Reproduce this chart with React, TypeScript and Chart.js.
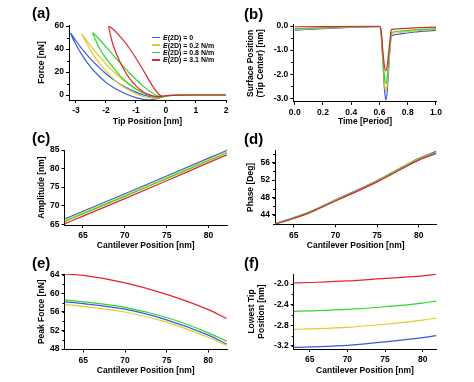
import React, { useEffect, useRef } from 'react';
import { Chart, registerables } from 'chart.js';

Chart.register(...registerables);

const FONT = "'Liberation Sans', Arial, Helvetica, sans-serif";
const SERIES_LABELS = ['0', '0.2 N/m', '0.8 N/m', '3.1 N/m'];
const COLORS = ['rgb(55,90,225)', 'rgb(230,200,45)', 'rgb(45,215,45)', 'rgb(228,35,45)'];

// (a) Force vs tip position loops
const aBlueX = [2, 1, 0.5, 0.2, 0, -0.15, -0.35, -0.55, -0.75, -1.0, -1.25, -1.5, -1.75, -2.0, -2.25, -2.5, -2.75, -3.0, -3.17, -3.05, -2.75, -2.5, -2.25, -2.0, -1.75, -1.5, -1.25, -1.0, -0.75, -0.5, -0.3, -0.1, 0];
const aBlueY = [0, 0, -0.1, -0.4, -1, -2, -3.5, -4.2, -3.8, -2.3, 0, 3, 6.5, 11, 17, 24, 33, 44, 53.5, 49, 38.5, 31, 24.5, 18.5, 13.5, 9, 5.5, 2.5, 0, -1.7, -2.3, -1.5, -1];
const aYellowX = [2, 1, 0.5, 0.1, -0.1, -0.3, -0.5, -0.75, -1.0, -1.25, -1.5, -1.75, -2.0, -2.2, -2.4, -2.6, -2.8, -2.7, -2.5, -2.2, -2.0, -1.75, -1.5, -1.25, -1.0, -0.75, -0.5, -0.3, -0.1];
const aYellowY = [0, 0, -0.1, -0.6, -1.5, -2.6, -2.5, -1.3, 1, 4.5, 8.5, 14, 21, 27, 34, 43, 53, 49.5, 42.5, 33, 27, 20.5, 14.5, 9.5, 5.3, 2, -0.5, -1.7, -1.6];
const aGreenX = [2, 1, 0.5, 0.1, -0.1, -0.3, -0.5, -0.75, -1.0, -1.25, -1.5, -1.75, -2.0, -2.2, -2.35, -2.43, -2.35, -2.1, -1.9, -1.7, -1.5, -1.25, -1.0, -0.75, -0.5, -0.3, -0.15, 0];
const aGreenY = [0, 0, -0.1, -0.6, -1.6, -2, -1, 1.5, 5.2, 10, 16, 23.5, 32, 40, 48, 54, 52, 45, 39, 33, 27, 20, 13.5, 7.5, 2.5, -0.5, -1.4, -1.0];
const aRedX = [2, 1, 0.5, 0.1, -0.1, -0.25, -0.4, -0.6, -0.8, -1.0, -1.2, -1.4, -1.55, -1.7, -1.8, -1.87, -1.9, -1.8, -1.6, -1.4, -1.2, -1.0, -0.8, -0.6, -0.45, -0.3, -0.2, -0.1];
const aRedY = [0, 0, -0.1, -0.4, -1, -1.5, -1, 0.5, 3.5, 8, 14, 22, 30, 39, 47, 55, 59.5, 58, 53, 47, 40, 32, 23.5, 14.5, 8, 2.5, -0.3, -1];

// (b) Surface position vs time
const bTime = [0, 0.6, 0.607, 0.615, 0.625, 0.635, 0.645, 0.655, 0.665, 0.675, 0.683, 0.69, 0.75, 0.85, 1.0];
const bBlue = [-0.17, -0.03, -0.1, -0.6, -1.6, -2.6, -3.08, -2.7, -1.8, -0.9, -0.45, -0.4, -0.33, -0.25, -0.18];
const bYellow = [-0.13, -0.02, -0.09, -0.55, -1.5, -2.35, -2.74, -2.4, -1.6, -0.8, -0.38, -0.33, -0.27, -0.2, -0.14];
const bGreen = [-0.11, -0.02, -0.08, -0.5, -1.35, -2.1, -2.39, -2.1, -1.4, -0.7, -0.3, -0.26, -0.21, -0.16, -0.11];
const bRed = [-0.03, -0.01, -0.06, -0.4, -1.1, -1.65, -1.86, -1.65, -1.1, -0.55, -0.17, -0.14, -0.11, -0.08, -0.05];

// (c) Amplitude
const cPos = [62.8, 65, 70, 75, 80, 82.2];
const cBlue = [66.4, 68.5, 73.2, 78.0, 82.8, 84.9];
const cYellow = [66.0, 68.1, 72.8, 77.6, 82.4, 84.5];
const cGreen = [65.7, 67.8, 72.5, 77.3, 82.1, 84.2];
const cRed = [65.1, 67.2, 71.9, 76.7, 81.6, 83.7];

// (d) Phase
const dPos = [62.8, 65, 67, 70, 72, 75, 78, 80, 82.1];
const dBlue = [42.0, 43.4, 44.8, 47.5, 49.2, 51.9, 55.0, 57.0, 58.6];
const dYellow = [42.0, 43.3, 44.7, 47.4, 49.1, 51.8, 54.9, 56.9, 58.4];
const dGreen = [41.95, 43.3, 44.7, 47.3, 49.0, 51.7, 54.8, 56.8, 58.3];
const dRed = [41.9, 43.2, 44.6, 47.2, 48.9, 51.6, 54.6, 56.6, 58.1];

// (e) Peak force
const ePos = [62.75, 65, 70, 75, 80, 82.2];
const eBlue = [58.2, 57.8, 56.6, 54.3, 51.0, 49.1];
const eYellow = [57.6, 57.2, 56.0, 53.8, 50.5, 48.8];
const eGreen = [58.6, 58.2, 57.0, 54.8, 51.5, 49.7];
const eRed = [64.2, 63.9, 62.3, 59.8, 56.5, 54.6];

// (f) Lowest tip position
const fPos = [62.9, 65, 70, 75, 80, 81.8];
const fBlue = [-3.23, -3.22, -3.19, -3.12, -3.04, -3.0];
const fYellow = [-2.88, -2.87, -2.84, -2.78, -2.7, -2.66];
const fGreen = [-2.53, -2.52, -2.49, -2.44, -2.37, -2.33];
const fRed = [-1.98, -1.97, -1.94, -1.89, -1.84, -1.81];

const zip = (xs: number[], ys: number[]) => xs.map((x, i) => ({ x, y: ys[i] }));

type Spec = {
  canvas: [number, number, number, number];
  plot: [number, number, number, number];
  yTitleX: number;
  xTitleY: number;
  x: [number, number, number];
  y: [number, number, number];
  yMinor: number;
  xDec?: number;
  yDec?: number;
  xTitle: string;
  yTitle: string | string[];
  series: { x: number; y: number }[][];
  loop?: boolean;
};

const SPECS: Spec[] = [
  {
    canvas: [0, 0, 237, 132], plot: [69, 25, 226, 100], yTitleX: 42, xTitleY: 122,
    x: [-3.23, 2, 1], y: [-4.35, 60.9, 20], yMinor: 10,
    xTitle: 'Tip Position [nm]', yTitle: 'Force [nN]', loop: true,
    series: [zip(aBlueX, aBlueY), zip(aYellowX, aYellowY), zip(aGreenX, aGreenY), zip(aRedX, aRedY)],
  },
  {
    canvas: [237, 0, 237, 132], plot: [293.3, 24.8, 436.7, 101.9], yTitleX: 251, xTitleY: 122,
    x: [-0.01, 1.005, 0.2], y: [-3.15, 0.05, 1], yMinor: 0.5, xDec: 1, yDec: 1,
    xTitle: 'Time [Period]', yTitle: ['Surface Position', '(Tip Center) [nm]'],
    series: [zip(bTime, bBlue), zip(bTime, bYellow), zip(bTime, bGreen), zip(bTime, bRed)],
  },
  {
    canvas: [0, 125, 237, 132], plot: [64.5, 150, 227, 225], yTitleX: 42, xTitleY: 246,
    x: [62.8, 82.2, 5], y: [64.8, 85, 5], yMinor: 0,
    xTitle: 'Cantilever Position [nm]', yTitle: 'Amplitude [nm]',
    series: [zip(cPos, cBlue), zip(cPos, cYellow), zip(cPos, cGreen), zip(cPos, cRed)],
  },
  {
    canvas: [237, 125, 237, 132], plot: [275, 150.5, 436.3, 224.3], yTitleX: 251, xTitleY: 246,
    x: [62.75, 82.1, 5], y: [41.86, 58.8, 4], yMinor: 2,
    xTitle: 'Cantilever Position [nm]', yTitle: 'Phase [Deg]',
    series: [zip(dPos, dBlue), zip(dPos, dYellow), zip(dPos, dGreen), zip(dPos, dRed)],
  },
  {
    canvas: [0, 250, 237, 132], plot: [64.5, 274, 227, 349.5], yTitleX: 42, xTitleY: 370.7,
    x: [62.74, 82.24, 5], y: [47.9, 64.2, 4], yMinor: 2,
    xTitle: 'Cantilever Position [nm]', yTitle: 'Peak Force [nN]',
    series: [zip(ePos, eBlue), zip(ePos, eYellow), zip(ePos, eGreen), zip(ePos, eRed)],
  },
  {
    canvas: [237, 250, 237, 132], plot: [293.7, 274, 436.3, 349], yTitleX: 252, xTitleY: 370.7,
    x: [62.88, 81.8, 5], y: [-3.26, -1.805, 0.4], yMinor: 0.2, yDec: 1,
    xTitle: 'Cantilever Position [nm]', yTitle: ['Lowest Tip', 'Position [nm]'],
    series: [zip(fPos, fBlue), zip(fPos, fYellow), zip(fPos, fGreen), zip(fPos, fRed)],
  },
];

const PANEL_LABELS = [
  { t: '(a)', x: 32, y: 13 },
  { t: '(b)', x: 244, y: 14 },
  { t: '(c)', x: 32, y: 138 },
  { t: '(d)', x: 244, y: 139 },
  { t: '(e)', x: 32, y: 263 },
  { t: '(f)', x: 244, y: 263 },
];

const minorTicks = {
  id: 'minorTicks',
  afterDraw(chart: any, _args: any, opts: any) {
    const step = opts && opts.step;
    if (!step) return;
    const ys = chart.scales.y;
    const ctx = chart.ctx;
    ctx.save();
    ctx.strokeStyle = '#000';
    ctx.lineWidth = 1;
    const start = Math.ceil(ys.min / step - 1e-9);
    for (let k = start; k * step <= ys.max + 1e-9; k++) {
      const p = Math.round(ys.getPixelForValue(k * step)) + 0.5;
      ctx.beginPath();
      ctx.moveTo(ys.right - 2, p);
      ctx.lineTo(ys.right, p);
      ctx.stroke();
    }
    ctx.restore();
  },
};

const TICK_FONT = { family: FONT, size: 8.5, weight: 'bold' as const };
const TITLE_FONT = { family: FONT, size: 8.5, weight: 'bold' as const, lineHeight: 1.1 };

function Panel({ spec }: { spec: Spec }) {
  const ref = useRef<HTMLCanvasElement>(null);
  useEffect(() => {
    const [cx, cy, cw, ch] = spec.canvas;
    const [L, T, R, B] = spec.plot;
    const lh = 8.5 * 1.1;
    const padLeft = spec.yTitleX - lh / 2 - cx;
    const W = L - cx - padLeft;
    const H = spec.xTitleY + lh / 2 - B;
    const fmt = (d?: number) => (v: any) => (d ? Number(v).toFixed(d) : String(v));
    const axisCommon = {
      type: 'linear' as const,
      grid: { display: true, drawOnChartArea: false, drawTicks: true, tickLength: 3, color: '#000', lineWidth: 1 },
      border: { display: true, color: '#000', width: 1 },
    };
    const chart = new Chart(ref.current as HTMLCanvasElement, {
      type: 'scatter',
      data: {
        datasets: spec.series.map((pts, i) => ({
          data: pts,
          showLine: true,
          borderColor: COLORS[i],
          backgroundColor: COLORS[i],
          borderWidth: 1.2,
          pointRadius: 0,
          tension: spec.loop ? 0.35 : 0,
          cubicInterpolationMode: spec.loop ? 'default' : 'monotone',
          order: 4 - i,
        })) as any,
      },
      options: {
        responsive: false,
        animation: false,
        events: [],
        layout: { padding: { left: padLeft, top: T - cy, right: cx + cw - R, bottom: Math.max(0, cy + ch - B - H) } },
        plugins: { legend: { display: false }, tooltip: { enabled: false }, minorTicks: { step: spec.yMinor } } as any,
        scales: {
          x: {
            ...axisCommon,
            position: 'bottom',
            min: spec.x[0],
            max: spec.x[1],
            afterFit: (s: any) => { s.height = H; },
            ticks: { stepSize: spec.x[2], includeBounds: false, color: '#000', font: TICK_FONT, padding: 3, maxRotation: 0, minRotation: 0, autoSkip: false, callback: fmt(spec.xDec) },
            title: { display: true, text: spec.xTitle, color: '#000', font: TITLE_FONT, padding: 0 },
          },
          y: {
            ...axisCommon,
            position: 'left',
            min: spec.y[0],
            max: spec.y[1],
            afterFit: (s: any) => { s.width = W; },
            ticks: { stepSize: spec.y[2], includeBounds: false, color: '#000', font: TICK_FONT, padding: 2, autoSkip: false, callback: fmt(spec.yDec) },
            title: { display: true, text: spec.yTitle, color: '#000', font: TITLE_FONT, padding: 0 },
          },
        } as any,
      },
      plugins: [minorTicks],
    });
    return () => chart.destroy();
  }, [spec]);
  const [cx, cy, cw, ch] = spec.canvas;
  return (
    <canvas
      ref={ref}
      width={cw}
      height={ch}
      style={{ position: 'absolute', left: cx, top: cy, width: cw, height: ch }}
    />
  );
}

export default function App() {
  return (
    <div style={{ position: 'absolute', left: 0, top: 0, width: 474, height: 382, background: '#fff', fontFamily: FONT, overflow: 'hidden' }}>
      {SPECS.map((s, i) => (
        <Panel key={i} spec={s} />
      ))}
      {PANEL_LABELS.map((p) => (
        <div key={p.t} style={{ position: 'absolute', left: p.x, top: p.y - 8, fontSize: 15, lineHeight: '16px', fontWeight: 'bold', color: '#000' }}>
          {p.t}
        </div>
      ))}
      <div style={{ position: 'absolute', left: 152, top: 34, fontSize: 7, fontWeight: 'bold', color: '#000' }}>
        {SERIES_LABELS.map((lab, i) => (
          <div key={lab} style={{ display: 'flex', alignItems: 'center', height: 7.4, whiteSpace: 'nowrap' }}>
            <span style={{ display: 'inline-block', width: 8, height: 1.4, background: COLORS[i], marginRight: 3 }} />
            <span><i>E</i>(2D) = {lab}</span>
          </div>
        ))}
      </div>
    </div>
  );
}
